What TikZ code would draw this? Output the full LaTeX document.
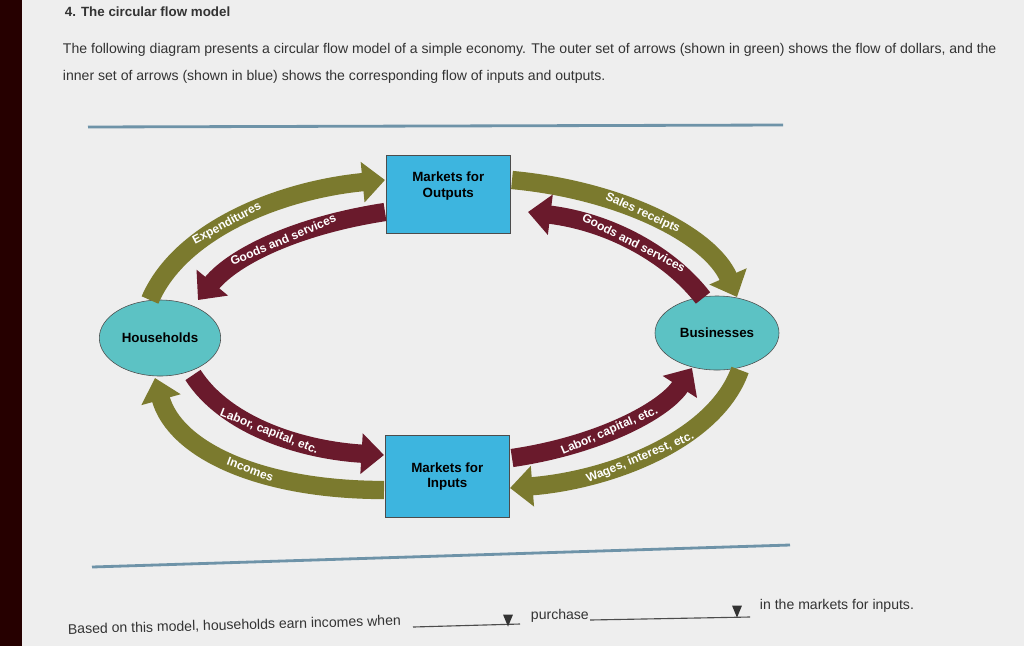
\documentclass[tikz,border=0pt]{standalone}
\usepackage{fontspec}
\setmainfont{Liberation Sans}
\usetikzlibrary{arrows.meta,shapes.geometric}
\definecolor{olv}{HTML}{7B7A2E}
\definecolor{mar}{HTML}{6A1A2C}
\definecolor{boxb}{HTML}{3DB5DF}
\definecolor{ell}{HTML}{5CC2C4}
\definecolor{rule}{HTML}{6E93A8}
\definecolor{bg}{HTML}{EEEEEE}
\tikzset{
 outer/.style={draw=olv,line width=13pt,-{Triangle[length=16pt,width=28pt]}},
 inner/.style={draw=mar,line width=13pt,-{Triangle[length=16pt,width=28pt]}},
 mkt/.style={draw=black!70,fill=boxb,minimum width=3.1cm,minimum height=1.95cm,font=\bfseries\fontsize{9.5}{11}\selectfont,align=center,anchor=north west,inner sep=2pt},
 agent/.style={ellipse,draw=black!70,fill=ell,font=\bfseries\fontsize{9.5}{11}\selectfont},
 lab/.style={text=white,font=\bfseries\fontsize{8.5}{10}\selectfont,sloped,inner sep=0pt},
 txt/.style={anchor=west,font=\fontsize{10}{12}\selectfont,text=black!80},
 dd/.style={fill=black!80,isosceles triangle,shape border rotate=-90,inner sep=0,minimum width=7pt,minimum height=5pt}
}
\begin{document}
\begin{tikzpicture}[x=0.025cm,y=-0.025cm]
\fill[bg] (0,0) rectangle (1024,646);
\useasboundingbox (0,0) rectangle (1024,646);
\fill[black!85!red] (0,0) rectangle (22,646);
\node[txt,font=\bfseries\fontsize{9.5}{11}\selectfont] (title) at (60,12) {4. The circular flow model};
\node[txt] (p1) at (58,50) {The following diagram presents a circular flow model of a simple economy. The outer set of arrows (shown in green) shows the flow of dollars, and the};
\node[txt] (p2) at (58,77) {inner set of arrows (shown in blue) shows the corresponding flow of inputs and outputs.};
\draw[rule,line width=2pt] (88,127) -- (783,125);
\node[mkt,text depth=14pt] (mo) at (386,155) {Markets for\\Outputs};
\node[mkt,minimum height=2.05cm] (mi) at (385,435) {Markets for\\Inputs};
\node[agent,minimum width=2.8cm,minimum height=1.9cm] (hh) at (160,338) {Households};
\node[agent,minimum width=3.1cm,minimum height=1.85cm] (bz) at (717,333) {Businesses};
\coordinate (a1) at (150,300); \coordinate (a1e) at (385,180);
\draw[outer] (a1) .. controls (180,230) and (280,190) .. node[lab,pos=0.45] (l1) {Expenditures} (a1e);
\coordinate (b1) at (385,212); \coordinate (b1e) at (198,300);
\draw[inner] (b1) .. controls (300,225) and (235,255) .. node[lab,pos=0.45] (l2) {Goods and services} (b1e);
\coordinate (c1) at (512,180); \coordinate (c1e) at (737,297);
\draw[outer] (c1) .. controls (620,190) and (710,235) .. node[lab,pos=0.45] (l3) {Sales receipts} (c1e);
\coordinate (d1) at (703,298); \coordinate (d1e) at (528,212);
\draw[inner] (d1) .. controls (670,255) and (610,222) .. node[lab,pos=0.5] (l4) {Goods and services} (d1e);
\coordinate (e1) at (512,458); \coordinate (e1e) at (692,368);
\draw[inner] (e1) .. controls (600,445) and (665,410) .. node[lab,pos=0.42] (l7) {Labor, capital, etc.} (e1e);
\coordinate (f1) at (740,370); \coordinate (f1e) at (510,488);
\draw[outer] (f1) .. controls (715,440) and (610,480) .. node[lab,pos=0.55] (l8) {Wages, interest, etc.} (f1e);
\coordinate (g1) at (193,375); \coordinate (g1e) at (384,455);
\draw[inner] (g1) .. controls (225,425) and (300,450) .. node[lab,pos=0.5] (l5) {Labor, capital, etc.} (g1e);
\coordinate (h1) at (384,490); \coordinate (h1e) at (155,378);
\draw[outer] (h1) .. controls (260,490) and (175,450) .. node[lab,pos=0.42] (l6) {Incomes} (h1e);
\draw[rule,line width=2pt] (92,567) -- (790,545);
\node[txt,rotate=1.5] (q1) at (63,630) {Based on this model, households earn incomes when};
\draw[black!70,line width=0.8pt] (413,627) -- (520,624);
\node[dd] (t1) at (508,618) {};
\node[txt] (q2) at (526,616) {purchase};
\draw[black!70,line width=0.8pt] (590,620) -- (750,617);
\node[dd] (t2) at (737,609) {};
\node[txt] (q3) at (755,606) {in the markets for inputs.};
\end{tikzpicture}
\end{document}
